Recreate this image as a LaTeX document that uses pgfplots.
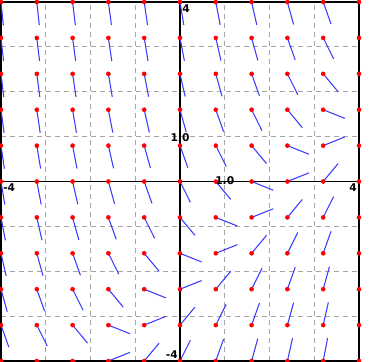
\documentclass[border=0pt]{standalone}
\usepackage{pgfplots}
\usepackage{pgfplotstable}
\usepackage{fontspec}
\setmainfont{DejaVu Sans}
\pgfplotsset{compat=1.18}
\definecolor{segblue}{RGB}{60,60,255}
\definecolor{gridgray}{RGB}{165,165,165}
\pgfplotstableread{
x y u v
-4 -4 0.2326 -0.4651
-3.2 -4 0.3329 -0.3995
-2.4 -4 0.4828 -0.1931
-1.6 -4 0.4828 0.1931
-0.8 -4 0.3329 0.3995
0 -4 0.2326 0.4651
0.8 -4 0.1749 0.4897
1.6 -4 0.1392 0.5010
2.4 -4 0.1152 0.5071
3.2 -4 0.0982 0.5107
4 -4 0.0855 0.5129
-4 -3.2 0.1749 -0.4897
-3.2 -3.2 0.2326 -0.4651
-2.4 -3.2 0.3329 -0.3995
-1.6 -3.2 0.4828 -0.1931
-0.8 -3.2 0.4828 0.1931
0 -3.2 0.3329 0.3995
0.8 -3.2 0.2326 0.4651
1.6 -3.2 0.1749 0.4897
2.4 -3.2 0.1392 0.5010
3.2 -3.2 0.1152 0.5071
4 -3.2 0.0982 0.5107
-4 -2.4 0.1392 -0.5010
-3.2 -2.4 0.1749 -0.4897
-2.4 -2.4 0.2326 -0.4651
-1.6 -2.4 0.3329 -0.3995
-0.8 -2.4 0.4828 -0.1931
0 -2.4 0.4828 0.1931
0.8 -2.4 0.3329 0.3995
1.6 -2.4 0.2326 0.4651
2.4 -2.4 0.1749 0.4897
3.2 -2.4 0.1392 0.5010
4 -2.4 0.1152 0.5071
-4 -1.6 0.1152 -0.5071
-3.2 -1.6 0.1392 -0.5010
-2.4 -1.6 0.1749 -0.4897
-1.6 -1.6 0.2326 -0.4651
-0.8 -1.6 0.3329 -0.3995
0 -1.6 0.4828 -0.1931
0.8 -1.6 0.4828 0.1931
1.6 -1.6 0.3329 0.3995
2.4 -1.6 0.2326 0.4651
3.2 -1.6 0.1749 0.4897
4 -1.6 0.1392 0.5010
-4 -0.8 0.0982 -0.5107
-3.2 -0.8 0.1152 -0.5071
-2.4 -0.8 0.1392 -0.5010
-1.6 -0.8 0.1749 -0.4897
-0.8 -0.8 0.2326 -0.4651
0 -0.8 0.3329 -0.3995
0.8 -0.8 0.4828 -0.1931
1.6 -0.8 0.4828 0.1931
2.4 -0.8 0.3329 0.3995
3.2 -0.8 0.2326 0.4651
4 -0.8 0.1749 0.4897
-4 0 0.0855 -0.5129
-3.2 0 0.0982 -0.5107
-2.4 0 0.1152 -0.5071
-1.6 0 0.1392 -0.5010
-0.8 0 0.1749 -0.4897
0 0 0.2326 -0.4651
0.8 0 0.3329 -0.3995
1.6 0 0.4828 -0.1931
2.4 0 0.4828 0.1931
3.2 0 0.3329 0.3995
4 0 0.2326 0.4651
-4 0.8 0.0757 -0.5145
-3.2 0.8 0.0855 -0.5129
-2.4 0.8 0.0982 -0.5107
-1.6 0.8 0.1152 -0.5071
-0.8 0.8 0.1392 -0.5010
0 0.8 0.1749 -0.4897
0.8 0.8 0.2326 -0.4651
1.6 0.8 0.3329 -0.3995
2.4 0.8 0.4828 -0.1931
3.2 0.8 0.4828 0.1931
4 0.8 0.3329 0.3995
-4 1.6 0.0678 -0.5156
-3.2 1.6 0.0757 -0.5145
-2.4 1.6 0.0855 -0.5129
-1.6 1.6 0.0982 -0.5107
-0.8 1.6 0.1152 -0.5071
0 1.6 0.1392 -0.5010
0.8 1.6 0.1749 -0.4897
1.6 1.6 0.2326 -0.4651
2.4 1.6 0.3329 -0.3995
3.2 1.6 0.4828 -0.1931
4 1.6 0.4828 0.1931
-4 2.4 0.0615 -0.5164
-3.2 2.4 0.0678 -0.5156
-2.4 2.4 0.0757 -0.5145
-1.6 2.4 0.0855 -0.5129
-0.8 2.4 0.0982 -0.5107
0 2.4 0.1152 -0.5071
0.8 2.4 0.1392 -0.5010
1.6 2.4 0.1749 -0.4897
2.4 2.4 0.2326 -0.4651
3.2 2.4 0.3329 -0.3995
4 2.4 0.4828 -0.1931
-4 3.2 0.0562 -0.5170
-3.2 3.2 0.0615 -0.5164
-2.4 3.2 0.0678 -0.5156
-1.6 3.2 0.0757 -0.5145
-0.8 3.2 0.0855 -0.5129
0 3.2 0.0982 -0.5107
0.8 3.2 0.1152 -0.5071
1.6 3.2 0.1392 -0.5010
2.4 3.2 0.1749 -0.4897
3.2 3.2 0.2326 -0.4651
4 3.2 0.3329 -0.3995
-4 4 0.0517 -0.5174
-3.2 4 0.0562 -0.5170
-2.4 4 0.0615 -0.5164
-1.6 4 0.0678 -0.5156
-0.8 4 0.0757 -0.5145
0 4 0.0855 -0.5129
0.8 4 0.0982 -0.5107
1.6 4 0.1152 -0.5071
2.4 4 0.1392 -0.5010
3.2 4 0.1749 -0.4897
4 4 0.2326 -0.4651
}\field
\begin{document}
\begin{tikzpicture}
\path[use as bounding box] (-0.75pt,0pt) rectangle (276.75pt,270.75pt);
\begin{axis}[
  at={(0pt,0pt)}, anchor=south west,
  scale only axis, width=268.5pt, height=269.25pt,
  xmin=-4, xmax=4, ymin=-4, ymax=4,
  xtick={-4,...,4}, ytick={-4,...,4},
  xticklabels={}, yticklabels={},
  major tick length=0pt,
  grid=major,
  grid style={draw=gridgray, line width=0.75pt, dash pattern=on 3.75pt off 3pt},
  extra x ticks={0}, extra y ticks={0},
  extra x tick labels={}, extra y tick labels={},
  extra tick style={grid style={solid, draw=black, line width=0.8pt}},
  axis line style={black, line width=0.8pt},
  clip=true,
]
\addplot[draw=segblue, line width=0.8pt, quiver={u=\thisrow{u}, v=\thisrow{v}}] table[x=x, y=y] {\field};
\addplot[only marks, mark=*, mark size=1.5pt, color=red] table[x=x, y=y] {\field};
\node[anchor=north west, inner sep=1.5pt, font=\bfseries\fontsize{8}{9}\selectfont] at (axis cs:0,4) {4};
\node[inner sep=0pt, font=\bfseries\fontsize{8}{9}\selectfont] at (axis cs:0,0.98) {1.0};
\node[anchor=north west, inner sep=1.5pt, font=\bfseries\fontsize{8}{9}\selectfont] at (axis cs:-4,0) {-4};
\node[inner sep=0pt, font=\bfseries\fontsize{8}{9}\selectfont] at (axis cs:1,0.02) {1.0};
\node[anchor=north east, inner sep=1.5pt, font=\bfseries\fontsize{8}{9}\selectfont] at (axis cs:4,0) {4};
\node[anchor=south east, inner sep=1.5pt, font=\bfseries\fontsize{8}{9}\selectfont] at (axis cs:0,-4) {-4};
\end{axis}
\end{tikzpicture}
\end{document}
